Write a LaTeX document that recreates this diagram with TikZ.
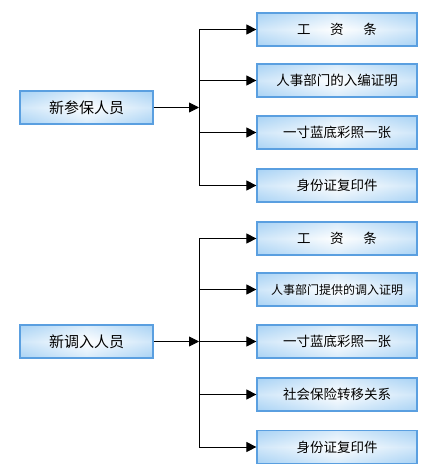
\documentclass[tikz,border=0pt]{standalone}
\usepackage{fontspec}
\setmainfont{Noto Sans CJK SC}
\usetikzlibrary{arrows.meta}
\definecolor{bxborder}{HTML}{5A9FE0}
\definecolor{bxedge}{HTML}{A9D3F5}
\tikzset{
  x=1pt,y=-1pt,
  bx/.style={draw=bxborder, line width=1.2pt, minimum height=33pt, inner sep=0pt,
    top color=bxedge, bottom color=bxedge, middle color=white,
    path picture={\shade[left color=bxedge, right color=bxedge, middle color=white, opacity=0.55]
      (path picture bounding box.south west) rectangle (path picture bounding box.north east);},
    font=\fontsize{13.5pt}{15pt}\selectfont},
  rbx/.style={bx, minimum width=160pt},
  lbx/.style={bx, minimum width=133pt, font=\fontsize{15pt}{17pt}\selectfont},
  arr/.style={-{Triangle[length=10pt,width=10pt]}, line width=0.9pt},
  ln/.style={line width=0.9pt}
}
\newcommand{\gp}{\hspace{1.45em}}
\begin{document}
\begin{tikzpicture}
\useasboundingbox[fill=white] (0,0) rectangle (429,469);
% top group
\node[lbx] (A) at (86.5,107.5) {新参保人员};
\node[rbx] (A1) at (337,29.5) {工\gp 资\gp 条};
\node[rbx] (A2) at (337,80.5) {人事部门的入编证明};
\node[rbx] (A3) at (337,132.5) {一寸蓝底彩照一张};
\node[rbx] (A4) at (337,185.5) {身份证复印件};
\coordinate (ab) at (199,107.5);
\draw[arr] (A.east) -- (ab);
\draw[ln] (ab |- A1.west) -- (ab |- A4.west);
\foreach \i in {1,...,4} \draw[arr] (ab |- A\i.west) -- (A\i.west);
% bottom group
\node[lbx] (B) at (86.5,341.5) {新调入人员};
\node[rbx] (B1) at (337,238.5) {工\gp 资\gp 条};
\node[rbx, font=\fontsize{12pt}{14pt}\selectfont] (B2) at (337,289.5) {人事部门提供的调入证明};
\node[rbx] (B3) at (337,341.5) {一寸蓝底彩照一张};
\node[rbx] (B4) at (337,394.5) {社会保险转移关系};
\node[rbx] (B5) at (337,447) {身份证复印件};
\coordinate (bb) at (199,341.5);
\draw[arr] (B.east) -- (bb);
\draw[ln] (bb |- B1.west) -- (bb |- B5.west);
\foreach \i in {1,...,5} \draw[arr] (bb |- B\i.west) -- (B\i.west);
\end{tikzpicture}
\end{document}
